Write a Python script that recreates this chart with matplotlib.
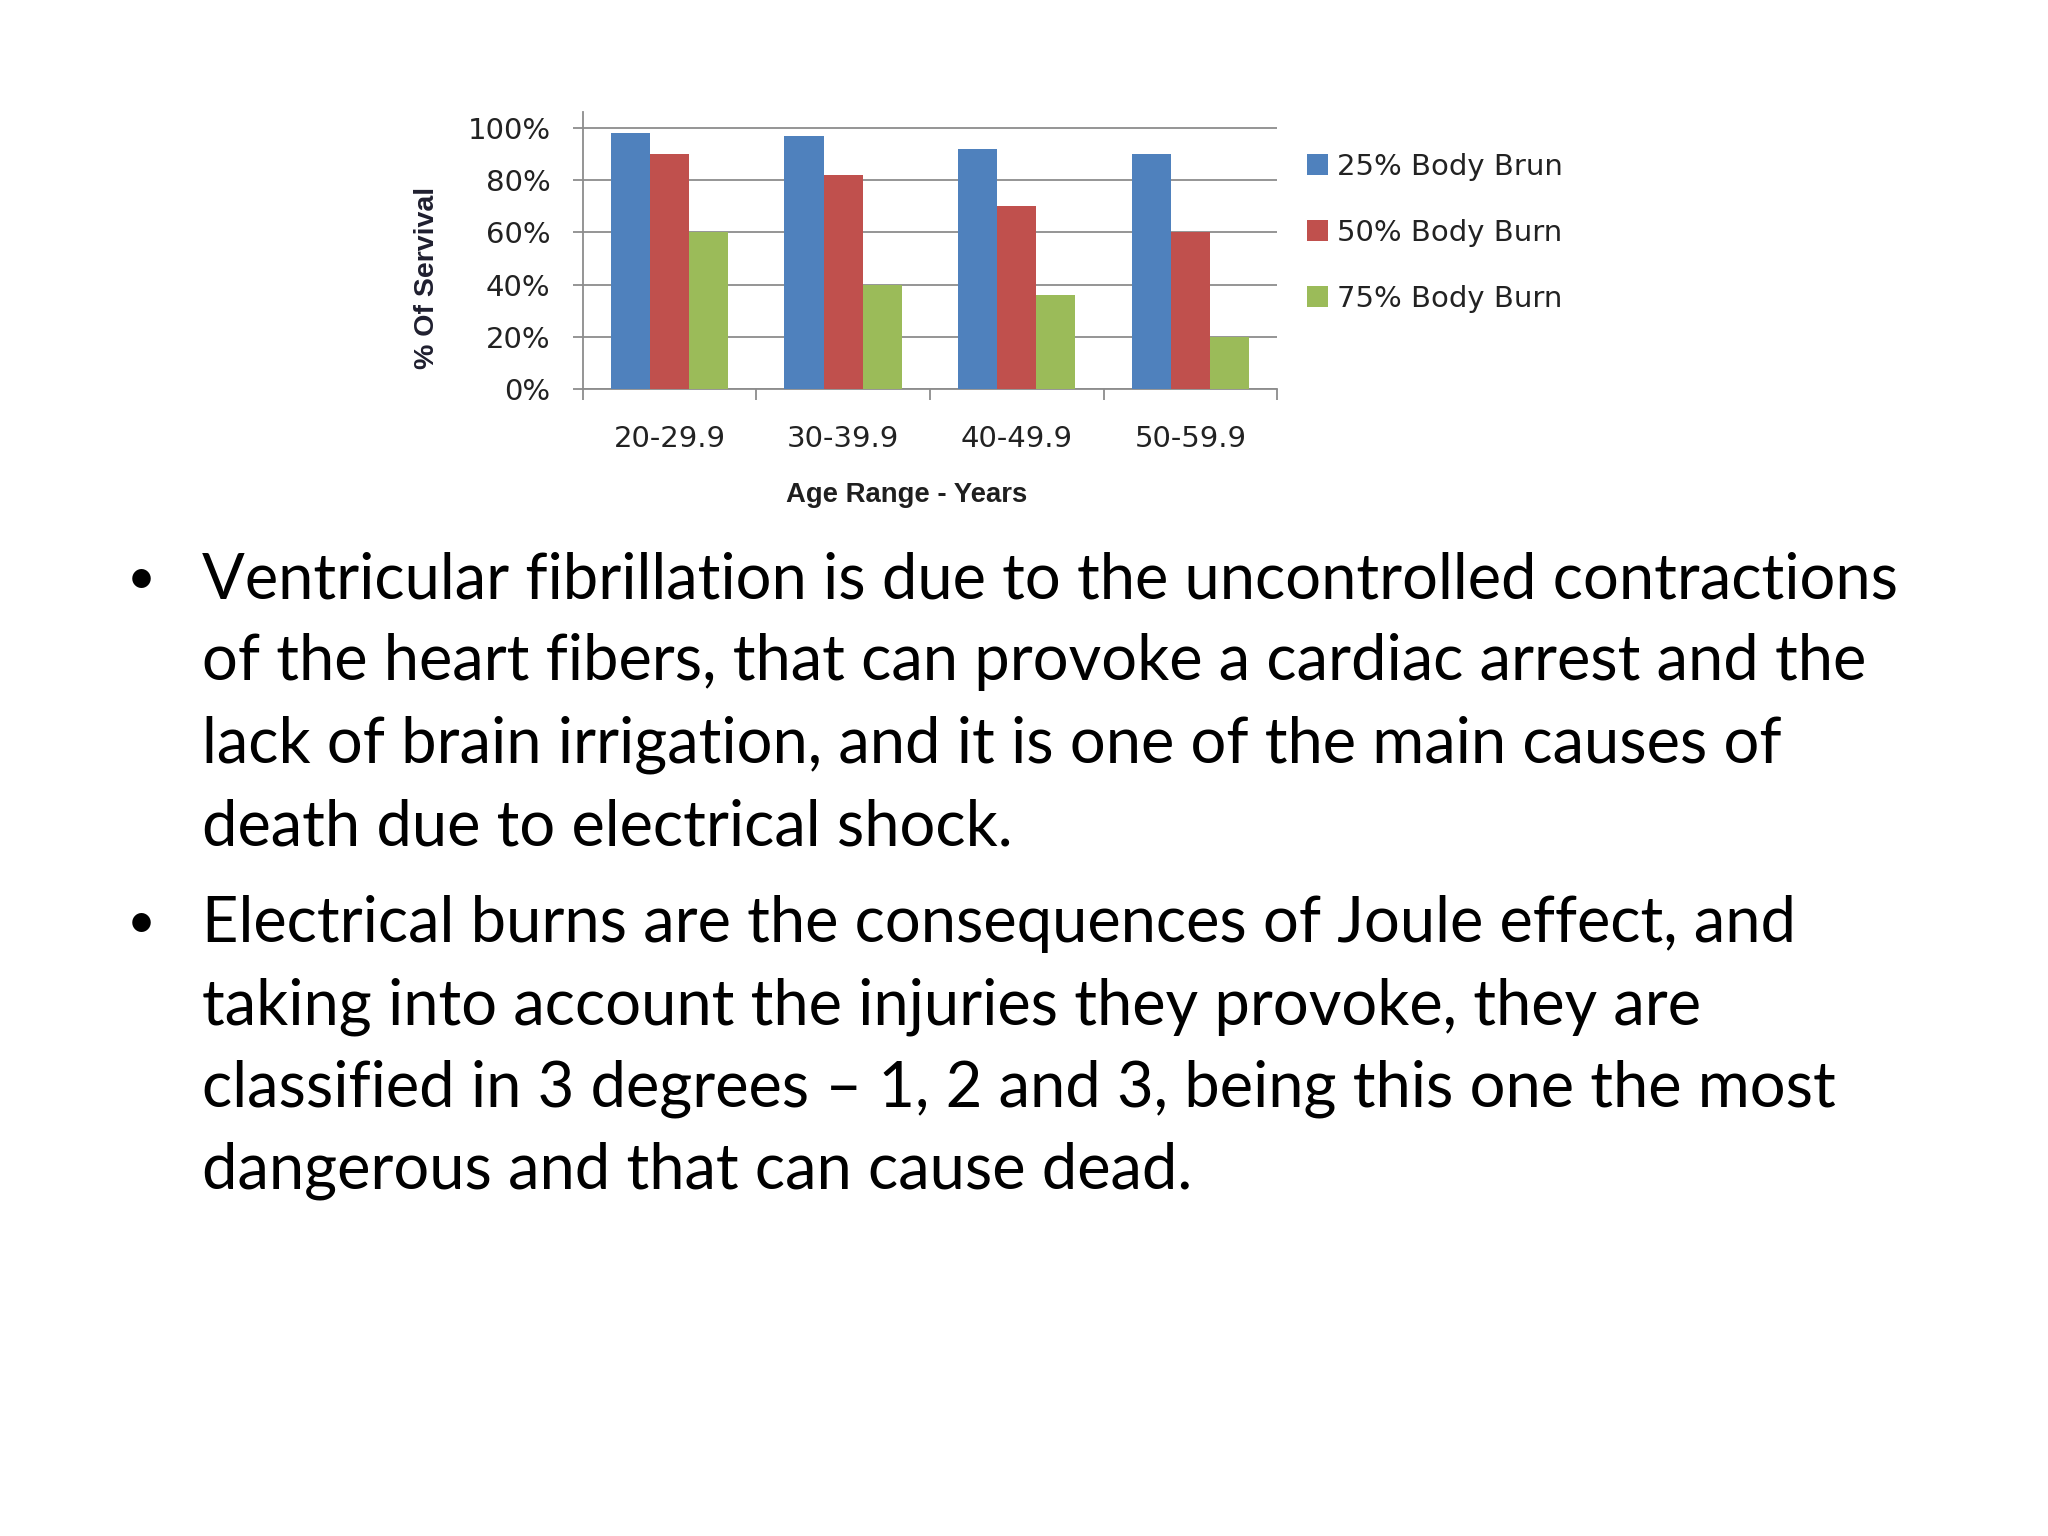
import matplotlib
matplotlib.use("Agg")
import matplotlib.pyplot as plt
import numpy as np

categories = ["20-29.9", "30-39.9", "40-49.9", "50-59.9"]
series_names = ["25% Body Brun", "50% Body Burn", "75% Body Burn"]
burn25 = [98, 97, 92, 90]
burn50 = [90, 82, 70, 60]
burn75 = [60, 40, 36, 20]
yticks = [0, 20, 40, 60, 80, 100]
ytick_labels = ["0%", "20%", "40%", "60%", "80%", "100%"]
colors = ["#4F81BD", "#C0504D", "#9BBB59"]

para1 = ["Ventricular fibrillation is due to the uncontrolled contractions",
         "of the heart fibers, that can provoke a cardiac arrest and the",
         "lack of brain irrigation, and it is one of the main causes of",
         "death due to electrical shock."]
para2 = ["Electrical burns are the consequences of Joule effect, and",
         "taking into account the injuries they provoke, they are",
         "classified in 3 degrees \u2013 1, 2 and 3, being this one the most",
         "dangerous and that can cause dead."]

W, H = 1568.0, 1176.0  # reference layout units
fig = plt.figure(figsize=(20.48, 15.36), dpi=100)
fig.patch.set_facecolor("white")

left, right = 446 / W, 978 / W
bottom, top = 1 - 298 / H, 1 - 86 / H
ax = fig.add_axes([left, bottom, right - left, top - bottom])
ax.set_facecolor("white")

x = np.arange(len(categories))
bw = 0.225
for i, (vals, name) in enumerate(zip([burn25, burn50, burn75], series_names)):
    ax.bar(x + (i - 1) * bw, vals, width=bw, color=colors[i], label=name, zorder=3)

ax.set_xlim(-0.5, 3.5)
ax.set_ylim(0, 106)
ax.set_yticks(yticks)
ax.set_yticklabels(ytick_labels)
ax.yaxis.grid(True, color="#8c8c8c", linewidth=1.3, zorder=0)
ax.set_axisbelow(True)
for s in ["top", "right"]:
    ax.spines[s].set_visible(False)
for s in ["left", "bottom"]:
    ax.spines[s].set_color("#8c8c8c")
    ax.spines[s].set_linewidth(1.3)

ax.set_xticks(np.arange(-0.5, 4, 1.0))
ax.set_xticklabels([])
ax.set_xticks(x, minor=True)
ax.set_xticklabels(categories, minor=True)
ax.tick_params(axis="x", which="major", direction="out", length=8, width=1.3, color="#8c8c8c")
ax.tick_params(axis="x", which="minor", length=0, pad=26, labelsize=21, labelcolor="#222222")
ax.tick_params(axis="y", direction="out", length=7, width=1.3, color="#8c8c8c", pad=16,
               labelsize=21, labelcolor="#222222")

fig.text(327 / W, 1 - 213 / H, "% Of Servival", rotation=90, ha="center", va="center",
         fontsize=20.5, fontweight="bold", family="Liberation Sans", color="#1f1f2f")
fig.text(694 / W, 1 - 379 / H, "Age Range - Years", ha="center", va="center",
         fontsize=19.8, fontweight="bold", family="Liberation Sans", color="#1f1f1f")

leg = ax.legend(loc="upper left", bbox_to_anchor=(1001 / W, 1 - 117 / H),
                bbox_transform=fig.transFigure, frameon=False, fontsize=21,
                handlelength=0.72, handleheight=0.72, handletextpad=0.28,
                labelspacing=1.30, borderpad=0, borderaxespad=0)
for t in leg.get_texts():
    t.set_color("#222222")

fs = 45.5
def block(lines, y0):
    fig.text(97 / W, 1 - (y0 - 3) / H, "\u2022", fontsize=36, family="Lato", va="baseline", ha="left")
    for k, line in enumerate(lines):
        fig.text(155 / W, 1 - (y0 + 63 * k) / H, line, fontsize=fs, family="Lato",
                 va="baseline", ha="left", color="black")

block(para1, 458)
block(para2, 721)

fig.savefig("out.png", dpi=100, facecolor="white")
